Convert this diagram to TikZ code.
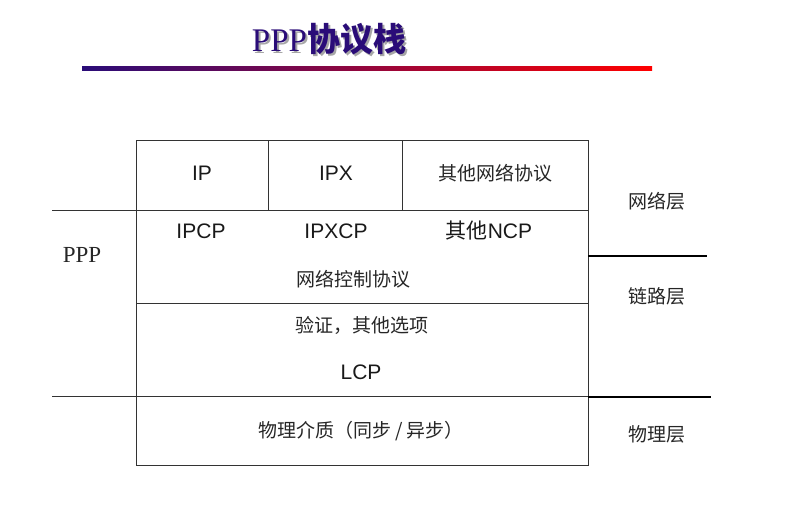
\documentclass[tikz,border=0pt]{standalone}
\usepackage{fontspec}
\setmainfont{Liberation Sans}
\newfontfamily\cjk{Noto Sans CJK SC}
\newfontfamily\serif{Liberation Serif}
\definecolor{titleblue}{RGB}{42,12,120}
\definecolor{titlered}{RGB}{255,0,0}
\newcommand{\titletext}{\serif PPP\cjk\bfseries 协议栈}
\begin{document}
\begin{tikzpicture}[x=1pt,y=-1pt,
    lbl/.style={text=black!90, font=\fontsize{21}{21}\selectfont},
    zh/.style={text=black!85, font=\cjk\fontsize{19}{19}\selectfont},
    frame/.style={line width=1pt, black!80},
    layer/.style={line width=2.5pt}]
\useasboundingbox (0,0) rectangle (790,512);
% title (with its shadow) and underline
\node[font=\fontsize{33}{33}\selectfont] (title) at (329,40)
  {\rlap{\hspace{2pt}\raisebox{-2pt}{\color{black!35}\titletext}}\color{titleblue}\titletext};
\shade[left color=titleblue, right color=titlered] (82,66) rectangle (652,70);
% stack frame
\draw[frame] (136,140) rectangle (588,465);
\foreach \x in {268,402} {\draw[frame] (\x,140) -- (\x,210);}
\foreach \y in {210,396} {\draw[frame] (52,\y) -- (588,\y);}
\draw[frame] (136,303) -- (588,303);
\draw[layer] (588,256) -- (707,256);
\draw[layer] (588,397) -- (711,397);
% cells
\node[lbl] (ip) at (202,173) {IP};
\node[lbl] (ipx) at (336,173) {IPX};
\node[zh] (othernet) at (495,173) {其他网络协议};
\node[lbl] (ipcp) at (201,231) {IPCP};
\node[lbl] (ipxcp) at (336,231) {IPXCP};
\node[lbl] (otherncp) at (489,231) {{\cjk 其他}NCP};
\node[zh] (ncp) at (353,279) {网络控制协议};
\node[zh] (auth) at (362,325) {验证，其他选项};
\node[lbl] (lcp) at (361,372) {LCP};
\node[zh] (phys) at (361,431) {物理介质（同步 / 异步）};
% side labels
\node[text=black!85, font=\serif\fontsize{23}{23}\selectfont] (ppp) at (82,255) {PPP};
\node[zh] (netlayer) at (657,201) {网络层};
\node[zh] (linklayer) at (657,296) {链路层};
\node[zh] (physlayer) at (657,434) {物理层};
\end{tikzpicture}
\end{document}
